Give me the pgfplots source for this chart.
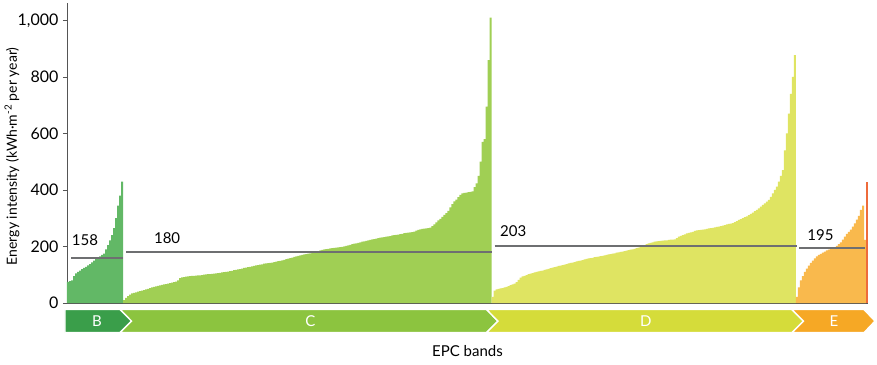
\documentclass[border=0pt]{standalone}
\usepackage{fontspec}
\setmainfont{Lato}
\usepackage{pgfplots}
\usepackage{pgfplotstable}
\pgfplotsset{compat=1.18}
\definecolor{Bband}{HTML}{3A9E4A}
\definecolor{Bbar}{HTML}{62B866}
\definecolor{Cband}{HTML}{8CC43F}
\definecolor{Cbar}{HTML}{A0CF54}
\definecolor{Dband}{HTML}{D5DC3A}
\definecolor{Dbar}{HTML}{DFE462}
\definecolor{Eband}{HTML}{F6A825}
\definecolor{Ebar}{HTML}{F9B94D}
\definecolor{Ered}{HTML}{EE6B3B}
\definecolor{meanline}{HTML}{6E6F71}
\definecolor{axisgray}{HTML}{555555}

\pgfplotstableread[row sep=\\]{y\\
75\\ 77\\ 80\\ 95\\ 105\\ 110\\ 115\\ 120\\ 124\\ 128\\
133\\ 138\\ 144\\ 150\\ 155\\ 160\\ 165\\ 170\\ 175\\ 190\\
205\\ 222\\ 240\\ 265\\ 300\\ 345\\ 380\\ 430\\
}\tabB

\pgfplotstableread[row sep=\\]{y\\
10\\ 18\\ 24\\ 30\\ 34\\ 36\\ 38\\ 40\\ 42\\ 44\\
46\\ 48\\ 50\\ 53\\ 55\\ 57\\ 59\\ 61\\ 62\\ 64\\
66\\ 67\\ 69\\ 70\\ 72\\ 74\\ 76\\ 80\\ 88\\ 91\\
92\\ 93\\ 94\\ 95\\ 96\\ 96\\ 97\\ 98\\ 98\\ 99\\
100\\ 101\\ 102\\ 102\\ 103\\ 104\\ 105\\ 106\\ 107\\ 108\\
109\\ 110\\ 111\\ 113\\ 114\\ 116\\ 117\\ 119\\ 120\\ 122\\
124\\ 125\\ 127\\ 128\\ 130\\ 131\\ 133\\ 134\\ 136\\ 137\\
139\\ 140\\ 141\\ 142\\ 143\\ 145\\ 146\\ 148\\ 149\\ 151\\
153\\ 155\\ 157\\ 159\\ 161\\ 163\\ 165\\ 167\\ 169\\ 170\\
172\\ 173\\ 175\\ 176\\ 178\\ 180\\ 182\\ 184\\ 186\\ 188\\
190\\ 191\\ 192\\ 193\\ 194\\ 195\\ 196\\ 197\\ 198\\ 199\\
200\\ 202\\ 204\\ 206\\ 208\\ 210\\ 211\\ 213\\ 215\\ 217\\
218\\ 220\\ 222\\ 223\\ 225\\ 226\\ 228\\ 230\\ 231\\ 232\\
233\\ 235\\ 236\\ 237\\ 239\\ 240\\ 241\\ 242\\ 244\\ 245\\
247\\ 248\\ 249\\ 250\\ 251\\ 253\\ 256\\ 259\\ 261\\ 262\\
263\\ 264\\ 265\\ 267\\ 272\\ 278\\ 285\\ 292\\ 298\\ 305\\
312\\ 318\\ 326\\ 338\\ 350\\ 360\\ 366\\ 375\\ 383\\ 388\\
390\\ 391\\ 392\\ 393\\ 395\\ 410\\ 423\\ 450\\ 500\\ 570\\
580\\ 695\\ 860\\ 1010\\
}\tabC

\pgfplotstableread[row sep=\\]{y\\
22\\ 44\\ 48\\ 50\\ 52\\ 53\\ 55\\ 57\\ 60\\ 63\\
66\\ 69\\ 74\\ 82\\ 90\\ 94\\ 96\\ 99\\ 102\\ 104\\
106\\ 108\\ 110\\ 112\\ 114\\ 115\\ 117\\ 119\\ 121\\ 123\\
125\\ 127\\ 129\\ 131\\ 132\\ 134\\ 136\\ 138\\ 140\\ 142\\
143\\ 145\\ 147\\ 149\\ 150\\ 152\\ 154\\ 156\\ 158\\ 159\\
160\\ 162\\ 163\\ 164\\ 166\\ 167\\ 169\\ 170\\ 172\\ 173\\
175\\ 176\\ 178\\ 179\\ 181\\ 182\\ 184\\ 185\\ 187\\ 189\\
190\\ 192\\ 194\\ 196\\ 198\\ 200\\ 204\\ 208\\ 211\\ 213\\
215\\ 217\\ 218\\ 219\\ 220\\ 221\\ 222\\ 222\\ 223\\ 224\\
224\\ 225\\ 230\\ 235\\ 238\\ 240\\ 243\\ 246\\ 248\\ 250\\
252\\ 255\\ 257\\ 258\\ 259\\ 260\\ 261\\ 262\\ 264\\ 265\\
266\\ 268\\ 269\\ 270\\ 272\\ 274\\ 276\\ 278\\ 280\\ 281\\
283\\ 286\\ 290\\ 294\\ 297\\ 300\\ 304\\ 307\\ 311\\ 315\\
320\\ 325\\ 330\\ 335\\ 341\\ 347\\ 353\\ 359\\ 365\\ 376\\
388\\ 400\\ 412\\ 430\\ 450\\ 470\\ 540\\ 600\\ 670\\ 740\\
800\\ 877\\
}\tabD

\pgfplotstableread[row sep=\\]{y\\
22\\ 55\\ 80\\ 95\\ 110\\ 122\\ 132\\ 142\\ 150\\ 158\\
165\\ 170\\ 174\\ 178\\ 182\\ 186\\ 189\\ 192\\ 195\\ 198\\
202\\ 208\\ 215\\ 224\\ 235\\ 245\\ 252\\ 260\\ 270\\ 282\\
295\\ 308\\ 330\\ 345\\ 223\\
}\tabE

\begin{document}
\begin{tikzpicture}
\begin{axis}[
  name=ax,
  scale only axis,
  width=801pt, height=299.5pt,
  xmin=-0.5, xmax=399.5,
  ymin=0, ymax=1060,
  clip=false,
  axis x line=bottom, axis y line=left,
  axis line style={-, axisgray, line width=0.9pt},
  xtick=\empty,
  ytick={0,200,400,600,800,1000},
  tick align=outside,
  major tick length=4pt,
  tick style={axisgray, line width=0.9pt},
  /pgf/number format/assume math mode=true,
  /pgf/number format/1000 sep={,},
  yticklabel style={font=\fontsize{16}{18}\selectfont, black, xshift=-1pt},
  ylabel={Energy intensity (kWh·m\textsuperscript{-2} per year)},
  ylabel style={font=\fontsize{14}{16}\selectfont, at={(axis description cs:-0.0686,0.49)}, anchor=center},
  xlabel={EPC bands},
  xlabel style={font=\fontsize{15}{17}\selectfont, at={(axis description cs:0.5,0)}, anchor=center, yshift=-48pt},
]
% bars
\addplot[ybar, bar shift=0pt, bar width=1, fill=Bbar, draw=none] table[x expr=\coordindex, y=y] {\tabB};
\addplot[ybar, bar shift=0pt, bar width=1, fill=Cbar, draw=none] table[x expr=\coordindex+28, y=y] {\tabC};
\addplot[ybar, bar shift=0pt, bar width=1, fill=Dbar, draw=none] table[x expr=\coordindex+212, y=y] {\tabD};
\addplot[ybar, bar shift=0pt, bar width=1, fill=Ebar, draw=none] table[x expr=\coordindex+364, y=y] {\tabE};
\addplot[ybar, bar shift=0pt, bar width=1, fill=Ered, draw=none] coordinates {(399,430)};
% mean lines
\addplot[meanline, line width=1.8pt, no markers] coordinates {(1.5,158) (27.6,158)};
\addplot[meanline, line width=1.8pt, no markers] coordinates {(29,180) (211.9,180)};
\addplot[meanline, line width=1.8pt, no markers] coordinates {(213,203) (364,203)};
\addplot[meanline, line width=1.8pt, no markers] coordinates {(365.2,195) (398.2,195)};
% mean labels
\node[font=\fontsize{15}{17}\selectfont] at (axis cs:8.5,223) {158};
\node[font=\fontsize{15}{17}\selectfont] at (axis cs:49.5,230) {180};
\node[font=\fontsize{15}{17}\selectfont] at (axis cs:222.3,255) {203};
\node[font=\fontsize{15}{17}\selectfont] at (axis cs:375.8,239) {195};
% EPC band arrows
\fill[Bband, draw=white, line width=1.4pt] (axis cs:-1.5,-23) -- (axis cs:26,-23) -- (axis cs:31.75,-64) -- (axis cs:26,-105) -- (axis cs:-1.5,-105) -- cycle;
\fill[Cband, draw=white, line width=1.4pt] (axis cs:26,-23) -- (axis cs:209,-23) -- (axis cs:214.75,-64) -- (axis cs:209,-105) -- (axis cs:26,-105) -- (axis cs:31.75,-64) -- cycle;
\fill[Dband, draw=white, line width=1.4pt] (axis cs:209,-23) -- (axis cs:361.5,-23) -- (axis cs:367.25,-64) -- (axis cs:361.5,-105) -- (axis cs:209,-105) -- (axis cs:214.75,-64) -- cycle;
\fill[Eband, draw=white, line width=1.4pt] (axis cs:361.5,-23) -- (axis cs:397.5,-23) -- (axis cs:403,-64) -- (axis cs:397.5,-105) -- (axis cs:361.5,-105) -- (axis cs:367.25,-64) -- cycle;
\node[white, font=\fontsize{15}{17}\selectfont] at (axis cs:14.5,-64) {B};
\node[white, font=\fontsize{15}{17}\selectfont] at (axis cs:121,-64) {C};
\node[white, font=\fontsize{15}{17}\selectfont] at (axis cs:288.5,-64) {D};
\node[white, font=\fontsize{15}{17}\selectfont] at (axis cs:382.5,-64) {E};
\end{axis}
\pgfresetboundingbox
\path[use as bounding box] ([xshift=-67pt,yshift=-61pt]ax.south west) rectangle ([xshift=9pt,yshift=303pt]ax.south east);
\end{tikzpicture}
\end{document}
